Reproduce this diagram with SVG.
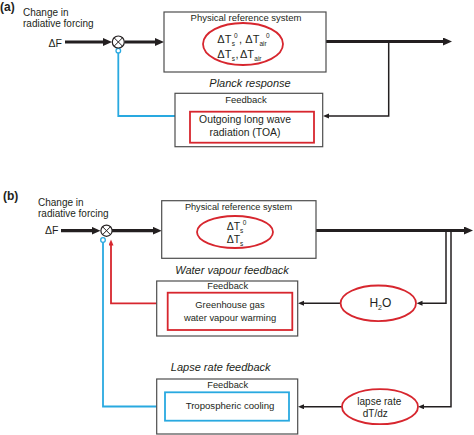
<svg xmlns="http://www.w3.org/2000/svg" width="474" height="435" viewBox="0 0 474 435">
<defs>
<style>
text{font-family:"Liberation Sans",Arial,sans-serif;fill:#231f20}
.box{fill:#fff;stroke:#4d4d4d;stroke-width:1.2}
.redbox{fill:none;stroke:#d7262e;stroke-width:1.8}
.bluebox{fill:none;stroke:#29a9e0;stroke-width:1.8}
.ell{fill:#fff;stroke:#d7262e;stroke-width:1.8}
.thick{fill:none;stroke:#231f20;stroke-width:3.2}
.thin{fill:none;stroke:#231f20;stroke-width:1.5}
.blue{fill:none;stroke:#29a9e0;stroke-width:1.8}
.red{fill:none;stroke:#d7262e;stroke-width:1.8}
.junc{fill:#fff;stroke:#231f20;stroke-width:1.2}
.it{font-style:italic;font-size:11px}
.lbl{font-size:9.5px}
.sub{font-size:6.5px}
</style>
<marker id="ah" markerUnits="userSpaceOnUse" markerWidth="10" markerHeight="9" refX="2" refY="4" orient="auto"><path d="M0,0 L9,4 L0,8 z" fill="#231f20"/></marker>
<marker id="as" markerUnits="userSpaceOnUse" markerWidth="7" markerHeight="6" refX="1" refY="2.5" orient="auto"><path d="M0,0 L6,2.5 L0,5 z" fill="#231f20"/></marker>
<marker id="ar" markerUnits="userSpaceOnUse" markerWidth="7" markerHeight="6" refX="1" refY="2.5" orient="auto"><path d="M0,0 L6,2.5 L0,5 z" fill="#d7262e"/></marker>
</defs>
<rect width="474" height="435" fill="#fff"/>

<g id="connectors">
<!-- panel a -->
<line class="thick" x1="65" y1="42" x2="105" y2="42" marker-end="url(#ah)"/>
<line class="thick" x1="124.5" y1="42" x2="157" y2="42" marker-end="url(#ah)"/>
<line class="thick" x1="326" y1="41.5" x2="445" y2="41.5" marker-end="url(#ah)"/>
<path class="thin" d="M388.7,41.5 V116 H328" marker-end="url(#as)"/>
<path class="blue" d="M118.3,53 V116 H175"/>
<circle cx="118.3" cy="50.7" r="2.3" fill="#fff" stroke="#29a9e0" stroke-width="1.3"/>
<!-- panel b -->
<line class="thick" x1="61" y1="230.7" x2="93.5" y2="230.7" marker-end="url(#ah)"/>
<line class="thick" x1="112" y1="230.7" x2="154.7" y2="230.7" marker-end="url(#ah)"/>
<line class="thick" x1="316" y1="230.5" x2="466" y2="230.5" marker-end="url(#ah)"/>
<path class="thin" d="M446,230.5 V303.3 H421.5" marker-end="url(#as)"/>
<path class="thin" d="M451,230.5 V406.7 H423" marker-end="url(#as)"/>
<line class="thin" x1="340.5" y1="303.3" x2="303" y2="303.3" marker-end="url(#as)"/>
<line class="thin" x1="342" y1="406.7" x2="303" y2="406.7" marker-end="url(#as)"/>
<path class="red" d="M156.7,303.3 H111 V244.5" marker-end="url(#ar)"/>
<path class="blue" d="M103,242.3 V406.5 H156.7"/>
<circle cx="103" cy="240" r="2.3" fill="#fff" stroke="#29a9e0" stroke-width="1.3"/>
</g>

<g id="labels-a">
<text x="0" y="10.5" font-size="12" font-weight="bold">(a)</text>
<text x="23" y="16" font-size="10">Change in</text>
<text x="23" y="27" font-size="10">radiative forcing</text>
<text x="48.5" y="46.5" font-size="10.5">ΔF</text>
</g>

<g id="junction-a">
<circle class="junc" cx="118.3" cy="42" r="6"/>
<path d="M114.1,37.8 L122.5,46.2 M122.5,37.8 L114.1,46.2" stroke="#231f20" stroke-width="1"/>
</g>

<g id="physical-a">
<rect class="box" x="164" y="12" width="162" height="60"/>
<text x="246" y="20.5" class="lbl" text-anchor="middle">Physical reference system</text>
<ellipse class="ell" cx="243" cy="44" rx="40" ry="21"/>
<text font-size="11"><tspan x="217.3" y="43.3">ΔT</tspan><tspan x="239" y="43.3">,</tspan><tspan x="245.3" y="43.3">ΔT</tspan></text>
<text class="sub"><tspan x="231.7" y="46">s</tspan><tspan x="234" y="37.5">0</tspan><tspan x="259.5" y="46">air</tspan><tspan x="266" y="37.5">0</tspan></text>
<text font-size="11"><tspan x="217.3" y="58">ΔT</tspan><tspan x="235.5" y="58">,</tspan><tspan x="240" y="58">ΔT</tspan></text>
<text class="sub"><tspan x="231.7" y="60.7">s</tspan><tspan x="254.3" y="60.7">air</tspan></text>
</g>

<g id="planck-feedback">
<text x="250" y="87" class="it" text-anchor="middle">Planck response</text>
<rect class="box" x="175" y="93.3" width="147.7" height="53.4"/>
<text x="246" y="102.7" class="lbl" text-anchor="middle">Feedback</text>
<rect class="redbox" x="190" y="111.7" width="124" height="31"/>
<text x="245" y="123.3" font-size="10.4" text-anchor="middle">Outgoing long wave</text>
<text x="245" y="135.7" font-size="10.4" text-anchor="middle">radiation (TOA)</text>
</g>

<g id="labels-b">
<text x="3" y="200" font-size="12" font-weight="bold">(b)</text>
<text x="38" y="206" font-size="10">Change in</text>
<text x="38" y="217" font-size="10">radiative forcing</text>
<text x="45" y="234" font-size="10.5">ΔF</text>
</g>

<g id="junction-b">
<circle class="junc" cx="106.5" cy="230.7" r="5.6"/>
<path d="M102.5,226.7 L110.5,234.7 M110.5,226.7 L102.5,234.7" stroke="#231f20" stroke-width="1"/>
</g>

<g id="physical-b">
<rect class="box" x="161.7" y="200.7" width="154.3" height="57.6"/>
<text x="238.5" y="210" font-size="9.2" text-anchor="middle">Physical reference system</text>
<ellipse class="ell" cx="235" cy="232" rx="38" ry="16"/>
<text x="226.7" y="230" font-size="10.5">ΔT</text>
<text class="sub"><tspan x="240" y="232.5">s</tspan><tspan x="242.7" y="224.5">0</tspan></text>
<text x="226.7" y="243.3" font-size="10.5">ΔT</text>
<text x="240" y="246" class="sub">s</text>
</g>

<g id="water-vapour-feedback">
<text x="232" y="274.3" class="it" text-anchor="middle">Water vapour feedback</text>
<rect class="box" x="156.7" y="281" width="141" height="55"/>
<text x="227.7" y="289" font-size="9.3" text-anchor="middle">Feedback</text>
<rect class="redbox" x="167.7" y="292.7" width="124.6" height="37.3"/>
<text x="230" y="308.3" font-size="9.4" text-anchor="middle">Greenhouse gas</text>
<text x="230" y="321" font-size="9.4" text-anchor="middle">water vapour warming</text>
</g>

<g id="h2o">
<ellipse class="ell" cx="378.3" cy="303.3" rx="37.7" ry="17.8"/>
<text x="369.5" y="307" font-size="12">H</text>
<text x="378" y="310" font-size="7">2</text>
<text x="382" y="307" font-size="12">O</text>
</g>

<g id="lapse-rate-feedback">
<text x="220.7" y="370.7" class="it" text-anchor="middle">Lapse rate feedback</text>
<rect class="box" x="156.7" y="379" width="141" height="55"/>
<text x="227.7" y="388.3" font-size="9.3" text-anchor="middle">Feedback</text>
<rect class="bluebox" x="165" y="392.3" width="124" height="28.4"/>
<text x="230" y="409" font-size="9.6" text-anchor="middle">Tropospheric cooling</text>
</g>

<g id="lapse-rate">
<ellipse class="ell" cx="380" cy="406.7" rx="38" ry="17.5"/>
<text x="379.3" y="405" font-size="10" text-anchor="middle">lapse rate</text>
<text x="375.3" y="416.7" font-size="10" text-anchor="middle">dT/dz</text>
</g>
</svg>
